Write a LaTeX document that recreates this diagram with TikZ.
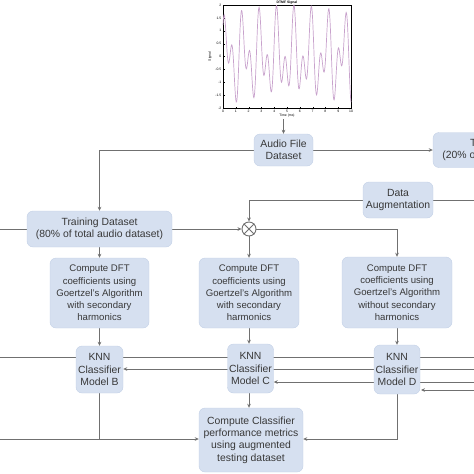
\documentclass[tikz,border=0pt]{standalone}
\usepackage{fontspec}
\setmainfont{Liberation Sans}
\usetikzlibrary{arrows.meta,backgrounds}
\definecolor{boxfill}{HTML}{D6E0F0}
\definecolor{boxline}{HTML}{C3D0E6}
\definecolor{txt}{HTML}{383838}
\definecolor{linec}{HTML}{707070}
\definecolor{sig}{HTML}{C8A2CC}
\newcommand{\boxfont}{\fontsize{10.4}{12.3}\selectfont}
\newcommand{\dftfont}{\fontsize{9.6}{12.2}\selectfont}
\newcommand{\tinyfont}{\fontsize{3.4}{4}\selectfont}
\tikzset{
  box/.style={rounded corners=6pt, fill=boxfill, draw=boxline, line width=0.4pt,
    align=center, text=txt, font=\boxfont, inner sep=0pt},
  dftbox/.style={box, font=\dftfont},
  conn/.style={draw=linec, line width=0.9pt},
  arr/.style={conn, -{Stealth[length=4pt,width=3.6pt]}},
  ticklab/.style={font=\tinyfont, inner sep=0.5pt, text=black}
}
\begin{document}
\begin{tikzpicture}[x=1pt,y=-1pt]
\useasboundingbox (0,0) rectangle (474,474);

% ---------- signal plot ----------
\draw[line width=0.3pt] (223,5) rectangle (351,108);
\foreach \t in {0,...,10}{
  \draw[line width=0.2pt] ({223+12.8*\t},108) -- ({223+12.8*\t},106.5);
  \node[ticklab] at ({223+12.8*\t},111) {\t};
}
\foreach \v/\l in {2/2,1.5/1.5,1/1,0.5/0.5,0/0,-0.5/-0.5,-1/-1,-1.5/-1.5,-2/-2}{
  \draw[line width=0.2pt] (223,{56.5-25.75*\v}) -- (224.5,{56.5-25.75*\v});
  \node[ticklab, anchor=east] at (222,{56.5-25.75*\v}) {\l};
}
\draw[sig, line width=0.7pt, domain=0:10, samples=320]
  plot ({223+12.8*\x},{56.5-25.75*(sin(360*0.759*\x+19)+sin(360*1.456*\x+64.3))});
\node[ticklab, font=\tinyfont\bfseries] (ptitle) at (287,2.2) {DTMF Signal};
\node[ticklab] (pxlab) at (287,115.5) {Time (ms)};
\node[ticklab, rotate=90] (pylab) at (210,56.5) {Signal};
\coordinate (plotbot) at (283.5,119);

% ---------- boxes ----------
\node[box, minimum width=59pt, minimum height=32pt] (audio) at (283.5,150) {Audio File\\Dataset};
\node[box, minimum width=146pt, minimum height=35pt] (test) at (506,150) {Testing Dataset\\(20\% of total audio dataset)};
\node[box, minimum width=70pt, minimum height=36pt] (aug) at (398,200) {Data\\Augmentation};
\node[box, minimum width=145pt, minimum height=36pt] (train) at (99.5,229) {Training Dataset\\(80\% of total audio dataset)};
\node[circle, draw=linec, line width=0.9pt, fill=white, minimum size=14pt, inner sep=0pt] (mix) at (249,229) {};
\draw[linec, line width=0.9pt] (mix.north west) -- (mix.south east) (mix.north east) -- (mix.south west);

\node[dftbox, minimum width=99pt, minimum height=70pt] (dft1) at (99.5,293) {Compute DFT\\coefficients using\\Goertzel's Algorithm\\with secondary\\harmonics};
\node[dftbox, minimum width=100pt, minimum height=70pt] (dft2) at (249,293) {Compute DFT\\coefficients using\\Goertzel's Algorithm\\with secondary\\harmonics};
\node[dftbox, minimum width=110pt, minimum height=71pt] (dft3) at (397,292.5) {Compute DFT\\coefficients using\\Goertzel's Algorithm\\without secondary\\harmonics};

\node[box, minimum width=47pt, minimum height=47pt] (knnB) at (99.5,369.5) {KNN\\Classifier\\Model B};
\node[box, minimum width=46pt, minimum height=49pt] (knnC) at (250.5,368.5) {KNN\\Classifier\\Model C};
\node[box, minimum width=46pt, minimum height=49pt] (knnD) at (397,369.5) {KNN\\Classifier\\Model D};

\node[box, minimum width=104pt, minimum height=64pt] (comp) at (251,440) {Compute Classifier\\performance metrics\\using augmented\\testing dataset};

% free ends at the picture's borders
\coordinate (inL1) at (0,229);
\coordinate (inL2) at (0,357);
\coordinate (inL3) at (0,439);
\coordinate (outR1) at (480,200);
\coordinate (outR2) at (480,357);
\coordinate (outR3) at (480,369);
\coordinate (outR4) at (480,382);
\coordinate (outR5) at (480,390);

% ---------- connectors ----------
\begin{scope}[on background layer]
\draw[arr] (plotbot) -- (audio.north);
\draw[arr] (audio.west) -| (train.north);
\draw[arr] (audio.east) -- (test.west);
\draw[arr] (aug.west) -| (mix.north);
\draw[conn] (aug.east) -- (outR1);
\draw[conn] (inL1) -- (train.west);
\draw[arr] (train.east) -- (mix.west);
\draw[arr] (mix.east) -| (dft3.north);
\draw[arr] (mix.south) -- (dft2.north);
\draw[arr] (train.south) -- (dft1.north);
\draw[arr] (dft1.south) -- (knnB.north);
\draw[arr] (dft2.south) -- (dft2.south |- knnC.north);
\draw[arr] (dft3.south) -- (knnD.north);
\draw[arr] (knnC.south -| dft2.south) -- (comp.north -| dft2.south);
% horizontal buses
\draw[conn] (inL2) -- (outR2);
\draw[arr] (outR3) -- (knnB.east |- outR3);
\draw[arr] (outR4) -- (knnC.east |- outR4);
\draw[arr] (outR5) -- (421,390);
% to the metrics box
\draw[arr] (inL3) -- (comp.west |- inL3);
\draw[conn] (knnB.south) -- (knnB.south |- inL3);
\draw[arr] (knnD.south) |- (comp.east |- inL3);
\end{scope}
\end{tikzpicture}
\end{document}
